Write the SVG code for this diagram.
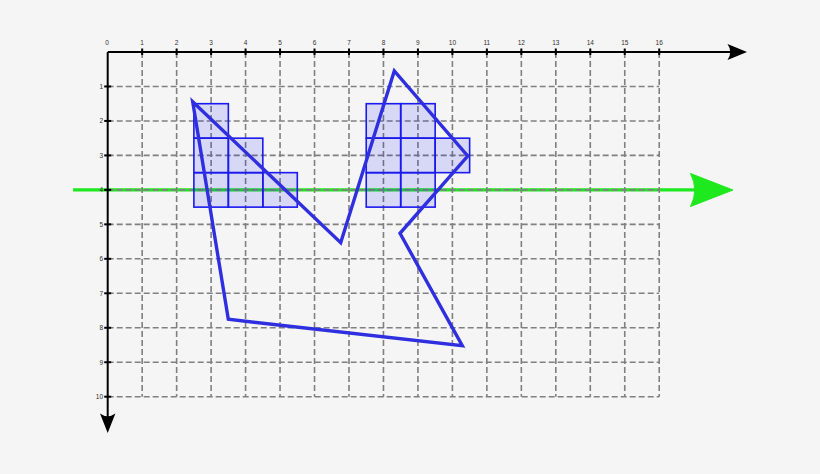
<svg xmlns="http://www.w3.org/2000/svg" width="820" height="474" viewBox="0 0 820 474">
<style>
.grid line{stroke:#808080;stroke-width:1.6;stroke-dasharray:6,3;fill:none}
.tick line{stroke:#000;stroke-width:2}
.lbl{font-family:"Liberation Sans",Arial,sans-serif;font-size:6.5px;fill:#333}
.xl{text-anchor:middle}
.yl{text-anchor:end}
.sq{fill:#0000ff;fill-opacity:0.12;stroke:#1a1aee;stroke-width:1.6}
.axis{stroke:#000;stroke-width:2;fill:none}
</style>
<rect width="820" height="474" fill="#f5f5f5"/>
<g id="reflection-line-shaft">
<line x1="73" y1="189.9" x2="700" y2="189.9" stroke="#1ee81e" stroke-width="3.2"/>
</g>
<g id="grid" class="grid">
<line x1="142.17" y1="52" x2="142.17" y2="396.7"/>
<line x1="176.64" y1="52" x2="176.64" y2="396.7"/>
<line x1="211.11" y1="52" x2="211.11" y2="396.7"/>
<line x1="245.58" y1="52" x2="245.58" y2="396.7"/>
<line x1="280.05" y1="52" x2="280.05" y2="396.7"/>
<line x1="314.52" y1="52" x2="314.52" y2="396.7"/>
<line x1="348.99" y1="52" x2="348.99" y2="396.7"/>
<line x1="383.46" y1="52" x2="383.46" y2="396.7"/>
<line x1="417.93" y1="52" x2="417.93" y2="396.7"/>
<line x1="452.4" y1="52" x2="452.4" y2="396.7"/>
<line x1="486.87" y1="52" x2="486.87" y2="396.7"/>
<line x1="521.34" y1="52" x2="521.34" y2="396.7"/>
<line x1="555.81" y1="52" x2="555.81" y2="396.7"/>
<line x1="590.28" y1="52" x2="590.28" y2="396.7"/>
<line x1="624.75" y1="52" x2="624.75" y2="396.7"/>
<line x1="659.22" y1="52" x2="659.22" y2="396.7"/>
<line x1="107.7" y1="86.47" x2="659.22" y2="86.47"/>
<line x1="107.7" y1="120.94" x2="659.22" y2="120.94"/>
<line x1="107.7" y1="155.41" x2="659.22" y2="155.41"/>
<line x1="107.7" y1="189.88" x2="659.22" y2="189.88"/>
<line x1="107.7" y1="224.35" x2="659.22" y2="224.35"/>
<line x1="107.7" y1="258.82" x2="659.22" y2="258.82"/>
<line x1="107.7" y1="293.29" x2="659.22" y2="293.29"/>
<line x1="107.7" y1="327.76" x2="659.22" y2="327.76"/>
<line x1="107.7" y1="362.23" x2="659.22" y2="362.23"/>
<line x1="107.7" y1="396.7" x2="659.22" y2="396.7"/>
</g>
<g id="squares-left">
<rect class="sq" x="193.88" y="103.7" width="34.47" height="34.47"/>
<rect class="sq" x="193.88" y="138.18" width="34.47" height="34.47"/>
<rect class="sq" x="228.35" y="138.18" width="34.47" height="34.47"/>
<rect class="sq" x="193.88" y="172.65" width="34.47" height="34.47"/>
<rect class="sq" x="228.35" y="172.65" width="34.47" height="34.47"/>
<rect class="sq" x="262.82" y="172.65" width="34.47" height="34.47"/>
</g>
<g id="squares-right">
<rect class="sq" x="366.23" y="103.7" width="34.47" height="34.47"/>
<rect class="sq" x="400.7" y="103.7" width="34.47" height="34.47"/>
<rect class="sq" x="366.23" y="138.18" width="34.47" height="34.47"/>
<rect class="sq" x="400.7" y="138.18" width="34.47" height="34.47"/>
<rect class="sq" x="435.17" y="138.18" width="34.47" height="34.47"/>
<rect class="sq" x="366.23" y="172.65" width="34.47" height="34.47"/>
<rect class="sq" x="400.7" y="172.65" width="34.47" height="34.47"/>
</g>
<g id="axes">
<line class="axis" x1="107.7" y1="52" x2="732" y2="52"/>
<path d="M747,52 L727.5,44 Q733,52 727.5,60 Z" fill="#000"/>
<line class="axis" x1="107.7" y1="52" x2="107.7" y2="420"/>
<path d="M107.7,433 L100,413.5 Q107.7,419 115.4,413.5 Z" fill="#000"/>
</g>
<g id="ticks" class="tick">
<line x1="142.17" y1="48.5" x2="142.17" y2="55"/>
<line x1="176.64" y1="48.5" x2="176.64" y2="55"/>
<line x1="211.11" y1="48.5" x2="211.11" y2="55"/>
<line x1="245.58" y1="48.5" x2="245.58" y2="55"/>
<line x1="280.05" y1="48.5" x2="280.05" y2="55"/>
<line x1="314.52" y1="48.5" x2="314.52" y2="55"/>
<line x1="348.99" y1="48.5" x2="348.99" y2="55"/>
<line x1="383.46" y1="48.5" x2="383.46" y2="55"/>
<line x1="417.93" y1="48.5" x2="417.93" y2="55"/>
<line x1="452.4" y1="48.5" x2="452.4" y2="55"/>
<line x1="486.87" y1="48.5" x2="486.87" y2="55"/>
<line x1="521.34" y1="48.5" x2="521.34" y2="55"/>
<line x1="555.81" y1="48.5" x2="555.81" y2="55"/>
<line x1="590.28" y1="48.5" x2="590.28" y2="55"/>
<line x1="624.75" y1="48.5" x2="624.75" y2="55"/>
<line x1="659.22" y1="48.5" x2="659.22" y2="55"/>
<line x1="104.2" y1="86.47" x2="111.2" y2="86.47"/>
<line x1="104.2" y1="120.94" x2="111.2" y2="120.94"/>
<line x1="104.2" y1="155.41" x2="111.2" y2="155.41"/>
<line x1="104.2" y1="189.88" x2="111.2" y2="189.88"/>
<line x1="104.2" y1="224.35" x2="111.2" y2="224.35"/>
<line x1="104.2" y1="258.82" x2="111.2" y2="258.82"/>
<line x1="104.2" y1="293.29" x2="111.2" y2="293.29"/>
<line x1="104.2" y1="327.76" x2="111.2" y2="327.76"/>
<line x1="104.2" y1="362.23" x2="111.2" y2="362.23"/>
<line x1="104.2" y1="396.7" x2="111.2" y2="396.7"/>
</g>
<g id="x-labels" class="lbl xl">
<text x="107" y="45">0</text>
<text x="142.17" y="45">1</text>
<text x="176.64" y="45">2</text>
<text x="211.11" y="45">3</text>
<text x="245.58" y="45">4</text>
<text x="280.05" y="45">5</text>
<text x="314.52" y="45">6</text>
<text x="348.99" y="45">7</text>
<text x="383.46" y="45">8</text>
<text x="417.93" y="45">9</text>
<text x="452.4" y="45">10</text>
<text x="486.87" y="45">11</text>
<text x="521.34" y="45">12</text>
<text x="555.81" y="45">13</text>
<text x="590.28" y="45">14</text>
<text x="624.75" y="45">15</text>
<text x="659.22" y="45">16</text>
</g>
<g id="y-labels" class="lbl yl">
<text x="103" y="88.8">1</text>
<text x="103" y="123.3">2</text>
<text x="103" y="157.8">3</text>
<text x="103" y="192.2">4</text>
<text x="103" y="226.7">5</text>
<text x="103" y="261.1">6</text>
<text x="103" y="295.6">7</text>
<text x="103" y="330.1">8</text>
<text x="103" y="364.5">9</text>
<text x="103" y="399">10</text>
</g>
<g id="polygon">
<polygon points="192.7,101.7 340.7,242.7 394.3,71 467.7,156 400,233.3 462.3,345.7 228.3,319.3" fill="none" stroke="#2f2fe0" stroke-width="3.4" stroke-linejoin="miter"/>
</g>
<g id="reflection-line-head">
<path d="M733,190 L690.5,173.5 Q699,190 690.5,206.5 Z" fill="#1ee81e" stroke="#1ee81e" stroke-width="1"/>
</g>
</svg>
